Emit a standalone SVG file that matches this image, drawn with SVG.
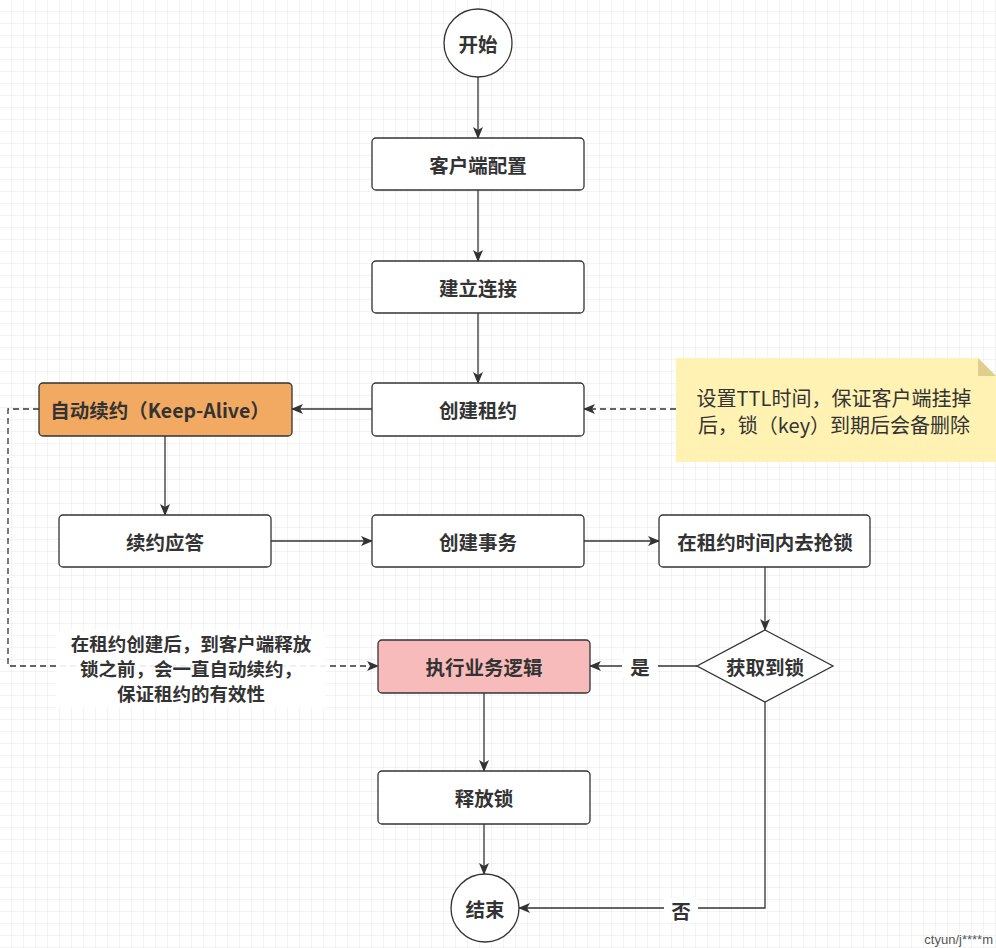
<svg xmlns="http://www.w3.org/2000/svg" width="996" height="948" viewBox="0 0 996 948">
<defs>
<pattern id="g" width="12" height="12" patternUnits="userSpaceOnUse"><path d="M12 0V12H0" fill="none" stroke="#e6e6e6" stroke-width="1"/></pattern>
<marker id="a" markerWidth="12" markerHeight="10" refX="11" refY="5" orient="auto" markerUnits="userSpaceOnUse"><path d="M0 0L12 5L0 10L3 5Z" fill="#333"/></marker>
<style>
.n{fill:#fff;stroke:#333;stroke-width:1.3}
.t{font-family:"Noto Sans CJK SC","Liberation Sans",sans-serif;font-size:19.5px;font-weight:bold;fill:#333;text-anchor:middle;dominant-baseline:central}
.s{font-size:18.5px}
.c{fill:none;stroke:#333;stroke-width:1.3;marker-end:url(#a)}
.d{stroke-dasharray:6 4}
</style>
</defs>
<rect width="996" height="948" fill="#fff"/>
<rect width="996" height="948" fill="url(#g)"/>
<g id="connectors">
<path class="c" d="M478 77V138"/>
<path class="c" d="M478 190V261"/>
<path class="c" d="M478 313V383"/>
<path class="c" d="M372 409H292"/>
<path class="c d" d="M676 409H584"/>
<path class="c" d="M165 436V515"/>
<path class="c" d="M271 541H372"/>
<path class="c" d="M584 541H659"/>
<path class="c" d="M765 567V630"/>
<path class="c" d="M697 666H590"/>
<path class="c" d="M484 693V771"/>
<path class="c" d="M484 824V874"/>
<path class="c" d="M765 702V908H519"/>
<path class="c d" d="M39 409H8V666H378"/>
<rect x="622" y="654" width="36" height="24" fill="#fff"/>
<text class="t" x="640" y="666">是</text>
<rect x="664" y="898" width="34" height="24" fill="#fff"/>
<text class="t" x="681" y="910">否</text>
<rect x="56" y="630" width="270" height="78" fill="#fff" opacity="0.9"/>
<text class="t s" x="191" y="643">在租约创建后，到客户端释放</text>
<text class="t s" x="191" y="668">锁之前，会一直自动续约，</text>
<text class="t s" x="191" y="693">保证租约的有效性</text>
</g>
<g id="start"><circle class="n" cx="478" cy="43" r="34"/><text class="t" x="478" y="43">开始</text></g>
<g id="config"><rect class="n" x="372" y="138" width="212" height="52" rx="4"/><text class="t" x="478" y="164">客户端配置</text></g>
<g id="connect"><rect class="n" x="372" y="261" width="212" height="52" rx="4"/><text class="t" x="478" y="287">建立连接</text></g>
<g id="lease"><rect class="n" x="372" y="383" width="212" height="53" rx="4"/><text class="t" x="478" y="409">创建租约</text></g>
<g id="keepalive"><rect class="n" x="39" y="383" width="253" height="53" rx="4" style="fill:#F2AA63"/><text class="t" x="160" y="409">自动续约（Keep-Alive）</text></g>
<g id="note"><path d="M676 358H978L996 376V462H676Z" fill="#FFF2B3"/><path d="M978 358V376H996Z" fill="#E0CF8C"/>
<text class="t" style="font-weight:normal;font-size:20px" x="834" y="397">设置TTL时间，保证客户端挂掉</text>
<text class="t" style="font-weight:normal;font-size:20px" x="834" y="424">后，锁（key）到期后会备删除</text></g>
<g id="renew"><rect class="n" x="59" y="515" width="212" height="52" rx="4"/><text class="t" x="165" y="541">续约应答</text></g>
<g id="txn"><rect class="n" x="372" y="515" width="212" height="52" rx="4"/><text class="t" x="478" y="541">创建事务</text></g>
<g id="grab"><rect class="n" x="659" y="515" width="211" height="52" rx="4"/><text class="t" x="765" y="541">在租约时间内去抢锁</text></g>
<g id="got"><path class="n" d="M765 630L833 666L765 702L697 666Z"/><text class="t" x="765" y="666">获取到锁</text></g>
<g id="exec"><rect class="n" x="378" y="640" width="212" height="53" rx="4" style="fill:#F8BBBB"/><text class="t" x="484" y="666">执行业务逻辑</text></g>
<g id="release"><rect class="n" x="378" y="771" width="212" height="53" rx="4"/><text class="t" x="484" y="797">释放锁</text></g>
<g id="end"><circle class="n" cx="485" cy="908" r="34"/><text class="t" x="485" y="908">结束</text></g>
<text x="993" y="944" font-family="Liberation Sans,sans-serif" font-size="13" fill="#555" text-anchor="end">ctyun/j****m</text>
</svg>
